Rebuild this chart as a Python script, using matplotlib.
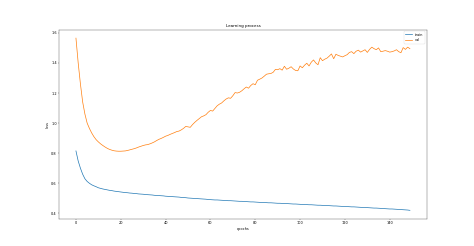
import matplotlib
matplotlib.use("Agg")
import matplotlib.pyplot as plt

# loss per epoch
train_loss = [
    0.815, 0.748, 0.700, 0.660, 0.630, 0.612, 0.600, 0.590, 0.583, 0.577,
    0.570, 0.566, 0.562, 0.559, 0.556, 0.553, 0.551, 0.548, 0.546, 0.544,
    0.542, 0.540, 0.538, 0.537, 0.535, 0.534, 0.532, 0.531, 0.529, 0.528,
    0.527, 0.525, 0.524, 0.523, 0.522, 0.520, 0.519, 0.518, 0.517, 0.516,
    0.514, 0.513, 0.512, 0.511, 0.510, 0.509, 0.508, 0.506, 0.505, 0.504,
    0.502, 0.501, 0.500, 0.499, 0.498, 0.497, 0.496, 0.495, 0.494, 0.492,
    0.491, 0.490, 0.489, 0.489, 0.488, 0.487, 0.486, 0.485, 0.484, 0.484,
    0.483, 0.482, 0.481, 0.480, 0.480, 0.479, 0.478, 0.477, 0.476, 0.476,
    0.475, 0.474, 0.473, 0.473, 0.472, 0.471, 0.470, 0.470, 0.469, 0.468,
    0.467, 0.467, 0.466, 0.465, 0.465, 0.464, 0.463, 0.462, 0.462, 0.461,
    0.460, 0.459, 0.459, 0.458, 0.457, 0.457, 0.456, 0.455, 0.454, 0.454,
    0.453, 0.452, 0.452, 0.451, 0.450, 0.449, 0.449, 0.448, 0.447, 0.446,
    0.446, 0.445, 0.444, 0.443, 0.443, 0.442, 0.441, 0.440, 0.439, 0.439,
    0.438, 0.437, 0.436, 0.435, 0.435, 0.434, 0.433, 0.432, 0.431, 0.430,
    0.429, 0.429, 0.428, 0.427, 0.426, 0.425, 0.424, 0.423, 0.422, 0.420,
]
val_loss = [
    1.565, 1.400, 1.260, 1.140, 1.060, 1.000, 0.965, 0.935, 0.910, 0.890,
    0.875, 0.862, 0.851, 0.841, 0.832, 0.825, 0.820, 0.816, 0.814, 0.813,
    0.813, 0.814, 0.815, 0.818, 0.822, 0.826, 0.830, 0.835, 0.841, 0.846,
    0.851, 0.855, 0.857, 0.862, 0.868, 0.875, 0.884, 0.892, 0.898, 0.905,
    0.913, 0.918, 0.925, 0.931, 0.937, 0.944, 0.947, 0.955, 0.965, 0.978,
    0.975, 0.972, 0.990, 1.005, 1.018, 1.030, 1.042, 1.048, 1.056, 1.072,
    1.084, 1.080, 1.098, 1.115, 1.126, 1.134, 1.148, 1.160, 1.168, 1.165,
    1.182, 1.203, 1.200, 1.205, 1.215, 1.228, 1.240, 1.232, 1.250, 1.262,
    1.255, 1.285, 1.292, 1.300, 1.312, 1.325, 1.328, 1.330, 1.338, 1.357,
    1.355, 1.362, 1.352, 1.378, 1.358, 1.365, 1.375, 1.360, 1.350, 1.348,
    1.380, 1.368, 1.385, 1.398, 1.380, 1.405, 1.420, 1.400, 1.388, 1.435,
    1.415, 1.425, 1.432, 1.445, 1.460, 1.428, 1.458, 1.450, 1.445, 1.440,
    1.448, 1.455, 1.470, 1.475, 1.462, 1.478, 1.485, 1.472, 1.480, 1.488,
    1.470, 1.490, 1.505, 1.495, 1.488, 1.500, 1.475, 1.478, 1.482, 1.478,
    1.472, 1.475, 1.480, 1.488, 1.475, 1.468, 1.502, 1.490, 1.505, 1.495,
]
epochs = list(range(len(train_loss)))

fig, ax = plt.subplots(figsize=(18.96, 9.84), dpi=25)
ax.plot(epochs, train_loss, label="train", lw=2.0)
ax.plot(epochs, val_loss, label="val", lw=2.0)
ax.set_title("Learning process")
ax.set_xlabel("epochs")
ax.set_ylabel("loss")
ax.legend(loc="upper right")
fig.savefig("out.png", dpi=25)
